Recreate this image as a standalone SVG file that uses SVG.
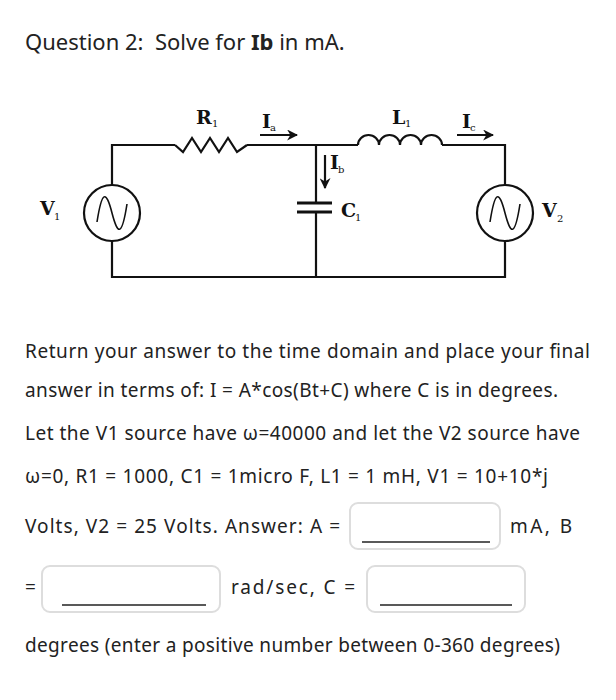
<svg xmlns="http://www.w3.org/2000/svg" width="616" height="700" viewBox="0 0 616 700">
<style>
.t{font-family:"Noto Sans","Open Sans",sans-serif;font-size:19px;fill:#222}
.w{stroke:#111;stroke-width:2.2;fill:none}
.s{font-family:"DejaVu Serif","Liberation Serif",serif;font-weight:bold;font-size:19px;fill:#111}
.sub{font-family:"DejaVu Serif","Liberation Serif",serif;font-size:10px;fill:#111}
.box{fill:#fff;stroke:#ddd;stroke-width:2}
</style>
<defs><marker id="ah" viewBox="0 0 10 10" refX="9" refY="5" markerWidth="5" markerHeight="5" orient="auto"><path d="M0,0 L10,5 L0,10 L3,5 Z" fill="#111"/></marker></defs>
<rect width="616" height="700" fill="#fff"/>
<text x="25" y="50" class="t" style="font-size:22px" xml:space="preserve">Question 2:  Solve for <tspan font-weight="bold">Ib</tspan> in mA.</text>
<g id="connectors">
<path class="w" d="M112,185 V145 H175 M247,145 H358 M442,145 H505 V185 M505,241 V277 H112 V241 M316,145 V203 M316,212 V277"/>
<path class="w" d="M260,135 H297" marker-end="url(#ah)"/>
<path class="w" d="M457,135 H493" marker-end="url(#ah)"/>
<path class="w" d="M325,155 V188" marker-end="url(#ah)"/>
</g>
<g id="R1"><path class="w" d="M175,145 L183,152 L192,138 L201,152 L210,138 L219,152 L228,138 L237,152 L247,145"/>
<text x="196" y="124" class="s">R</text><text x="212" y="127" class="sub">1</text>
<text x="262" y="128" class="s">I</text><text x="270" y="131" class="sub">a</text></g>
<g id="L1"><path class="w" d="M358,145 a10.5,10 0 0 1 21,0 a10.5,10 0 0 1 21,0 a10.5,10 0 0 1 21,0 a10.5,10 0 0 1 21,0"/>
<text x="392" y="124" class="s">L</text><text x="405" y="127" class="sub">1</text>
<text x="462" y="128" class="s">I</text><text x="470" y="131" class="sub">c</text></g>
<g id="C1"><path class="w" d="M297,203 H332 M297,212 H332" style="stroke-width:2.8"/>
<text x="341" y="217" class="s">C</text><text x="355" y="221" class="sub">1</text>
<text x="330" y="169" class="s">I</text><text x="338" y="173" class="sub">b</text></g>
<g id="V1"><circle cx="112" cy="213" r="28" class="w"/><path class="w" style="stroke-width:1.6" d="M97,222 C102,190 106,190 112,213 C118,236 122,236 127,204"/>
<text x="40" y="215" class="s">V</text><text x="54" y="220" class="sub">1</text></g>
<g id="V2"><circle cx="505" cy="213" r="28" class="w"/><path class="w" style="stroke-width:1.6" d="M490,222 C495,190 499,190 505,213 C511,236 515,236 520,204"/>
<text x="542" y="217" class="s">V</text><text x="557" y="222" class="sub">2</text></g>
<text x="25" y="358" class="t" textLength="565" lengthAdjust="spacing">Return your answer to the time domain and place your final</text>
<text x="25" y="397" class="t" textLength="533" lengthAdjust="spacing">answer in terms of: I = A*cos(Bt+C) where C is in degrees.</text>
<text x="25" y="440" class="t" textLength="555" lengthAdjust="spacing">Let the V1 source have ω=40000 and let the V2 source have</text>
<text x="25" y="483" class="t" textLength="523" lengthAdjust="spacing">ω=0, R1 = 1000, C1 = 1micro F, L1 = 1 mH, V1 = 10+10*j</text>
<text x="25" y="533" class="t" textLength="315" lengthAdjust="spacing">Volts, V2 = 25 Volts. Answer: A =</text>
<rect x="350" y="503" width="150" height="46" rx="8" class="box"/><line x1="362" y1="542" x2="490" y2="542" stroke="#222" stroke-width="1.3"/>
<text x="510" y="533" class="t" textLength="62" lengthAdjust="spacing">mA, B</text>
<text x="25" y="594" class="t">=</text>
<rect x="42" y="566" width="178" height="46" rx="8" class="box"/><line x1="62" y1="605" x2="206" y2="605" stroke="#222" stroke-width="1.3"/>
<text x="231" y="594" class="t" textLength="124" lengthAdjust="spacing">rad/sec, C =</text>
<rect x="367" y="566" width="158" height="46" rx="8" class="box"/><line x1="380" y1="605" x2="512" y2="605" stroke="#222" stroke-width="1.3"/>
<text x="25" y="652" class="t" textLength="535" lengthAdjust="spacing">degrees (enter a positive number between 0-360 degrees)</text>
</svg>
